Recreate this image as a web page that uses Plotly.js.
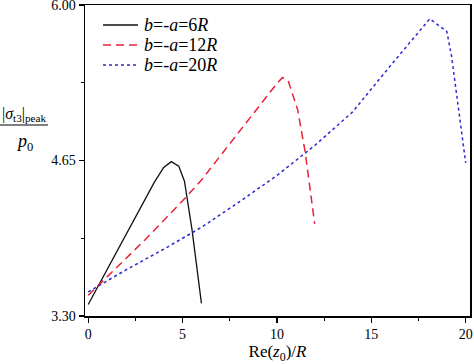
<!DOCTYPE html>
<html>
<head>
<meta charset="utf-8">
<script src="https://cdn.plot.ly/plotly-3.0.1.min.js"></script>
<style>html,body{margin:0;padding:0;background:#fff;}#chart{width:474px;height:364px;}</style>
</head>
<body>
<div id="chart"></div>
<script>
// b=-a=6R
const x6 = [0, 0.5, 1, 1.5, 2, 2.5, 3, 3.5, 4, 4.4, 4.8, 5.1, 5.5, 6];
const y6 = [3.40, 3.55, 3.70, 3.85, 4.00, 4.15, 4.30, 4.46, 4.59, 4.64, 4.60, 4.47, 4.05, 3.41];
// b=-a=12R
const x12 = [0, 1, 2, 3, 4, 5, 6, 7, 8, 9, 9.5, 10, 10.3, 10.6, 11.1, 11.5, 12];
const y12 = [3.48, 3.64, 3.80, 3.96, 4.13, 4.30, 4.48, 4.69, 4.91, 5.12, 5.22, 5.32, 5.37, 5.34, 5.09, 4.72, 4.10];
// b=-a=20R
const x20 = [0, 2, 4, 6, 8, 10, 12, 14, 16, 17, 18.1, 19, 19.25, 20];
const y20 = [3.51, 3.70, 3.88, 4.07, 4.29, 4.52, 4.78, 5.07, 5.47, 5.67, 5.88, 5.77, 5.56, 4.63];

const names = ['<i>b</i>=-<i>a</i>=6<i>R</i>', '<i>b</i>=-<i>a</i>=12<i>R</i>', '<i>b</i>=-<i>a</i>=20<i>R</i>'];
const yTickVals = [3.30, 4.65, 6.00];
const yTickText = ['3.30', '4.65', '6.00'];

const FONT = 'Liberation Serif, Times New Roman, serif';
const colors = ['#111111', '#e8203a', '#2a2ad0'];
const dashes = ['solid', '8px,5px', '3px,3px'];
const widths = [1.3, 1.5, 1.5];

const traces = [
  {x: x6, y: y6, name: names[0], mode: 'lines', line: {color: colors[0], width: widths[0], dash: dashes[0]}},
  {x: x12, y: y12, name: names[1], mode: 'lines', line: {color: colors[1], width: widths[1], dash: dashes[1]}},
  {x: x20, y: y20, name: names[2], mode: 'lines', line: {color: colors[2], width: widths[2], dash: dashes[2]}}
];

// plot area geometry (px) for paper-coordinate placement of legend / y-title
const L = 85, R = 4, T = 5, B = 48, W = 474, H = 364;
const pw = W - L - R, ph = H - T - B;
const px = v => (v - L) / pw;
const py = v => (H - B - v) / ph;

const shapes = [
  {type: 'line', xref: 'paper', yref: 'paper', x0: px(0), x1: px(48), y0: py(125), y1: py(125),
   line: {color: '#000', width: 1}}
];
const annotations = [
  {xref: 'paper', yref: 'paper', x: px(24), y: py(114), xanchor: 'center', yanchor: 'middle', showarrow: false,
   text: '|<i>σ</i><sub>t3</sub>|<sub>peak</sub>', font: {family: FONT, size: 16}},
  {xref: 'paper', yref: 'paper', x: px(24), y: py(142), xanchor: 'center', yanchor: 'middle', showarrow: false,
   text: '<i>p</i><sub>0</sub>', font: {family: FONT, size: 18}}
];
const rowY = [25, 45, 65];
for (let i = 0; i < 3; i++) {
  shapes.push({type: 'line', xref: 'paper', yref: 'paper', x0: px(103), x1: px(138), y0: py(rowY[i]), y1: py(rowY[i]),
    line: {color: colors[i], width: widths[i], dash: dashes[i]}});
  annotations.push({xref: 'paper', yref: 'paper', x: px(142), y: py(rowY[i]), xanchor: 'left', yanchor: 'middle',
    showarrow: false, text: names[i], font: {family: FONT, size: 18}});
}

const layout = {
  width: W, height: H,
  margin: {l: L, r: R, t: T, b: B},
  paper_bgcolor: '#fff', plot_bgcolor: '#fff',
  font: {family: FONT, size: 14, color: '#000'},
  showlegend: false,
  xaxis: {
    range: [-0.17, 20.23], tickmode: 'linear', tick0: 0, dtick: 5,
    ticks: 'outside', ticklen: 5, tickwidth: 1.2, tickcolor: '#000',
    showline: true, linecolor: '#000', linewidth: 1.5, mirror: true,
    showgrid: false, zeroline: false, ticklabeloverflow: 'allow',
    tickfont: {family: FONT, size: 14},
    minor: {dtick: 2.5, tick0: 0, ticks: 'outside', ticklen: 3, tickcolor: '#000', showgrid: false},
    title: {text: 'Re(<i>z</i><sub>0</sub>)/<i>R</i>', font: {family: FONT, size: 17}, standoff: 4}
  },
  yaxis: {
    range: [3.30, 6.00], tickmode: 'array', tickvals: yTickVals, ticktext: yTickText,
    ticks: 'outside', ticklen: 5, tickwidth: 1.2, tickcolor: '#000',
    showline: true, linecolor: '#000', linewidth: 1.5, mirror: true,
    showgrid: false, zeroline: false, ticklabeloverflow: 'allow',
    tickfont: {family: FONT, size: 14},
    minor: {tickvals: [3.975, 5.325], ticks: 'outside', ticklen: 3, tickcolor: '#000', showgrid: false}
  },
  annotations: annotations,
  shapes: shapes
};

Plotly.newPlot('chart', traces, layout, {staticPlot: true});
</script>
</body>
</html>
